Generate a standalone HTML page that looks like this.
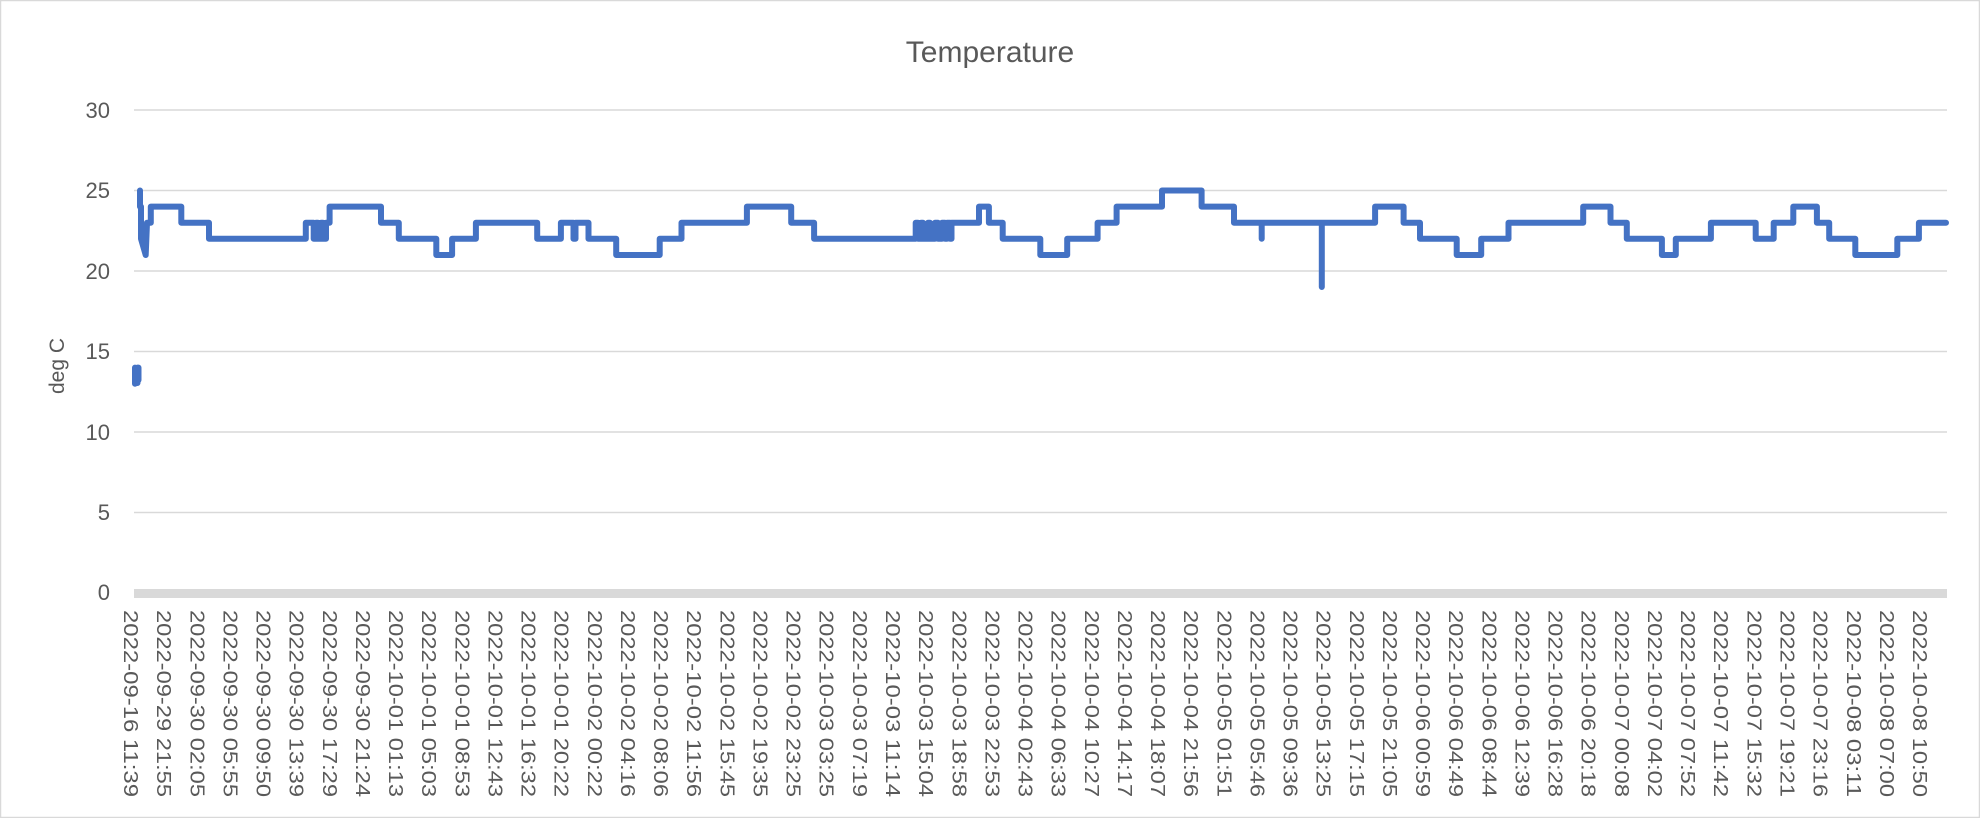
<!DOCTYPE html>
<html><head><meta charset="utf-8"><style>
html,body{margin:0;padding:0;background:#fff;}
svg{display:block;font-family:"Liberation Sans",sans-serif;}
</style></head><body>
<svg width="1980" height="818" viewBox="0 0 1980 818" xmlns="http://www.w3.org/2000/svg">
<rect x="0.5" y="0.5" width="1979" height="817" fill="#fff" stroke="#d9d9d9" stroke-width="1.5"/>
<text x="990" y="62" text-anchor="middle" font-size="30" fill="#595959">Temperature</text>
<g stroke="#d9d9d9" stroke-width="1.5">
<line x1="134" y1="110" x2="1947" y2="110"/>
<line x1="134" y1="190.5" x2="1947" y2="190.5"/>
<line x1="134" y1="271" x2="1947" y2="271"/>
<line x1="134" y1="351.5" x2="1947" y2="351.5"/>
<line x1="134" y1="432" x2="1947" y2="432"/>
<line x1="134" y1="512.5" x2="1947" y2="512.5"/>
</g>
<rect x="134" y="589" width="1813" height="9" fill="#d9d9d9"/>
<g font-size="22" fill="#595959" text-anchor="end">
<text x="110" y="118">30</text>
<text x="110" y="198">25</text>
<text x="110" y="279">20</text>
<text x="110" y="359">15</text>
<text x="110" y="440">10</text>
<text x="110" y="520">5</text>
<text x="110" y="600">0</text>
</g>
<text transform="translate(64,366) rotate(-90)" text-anchor="middle" font-size="21" fill="#595959">deg C</text>
<g fill="none" stroke="#4472C4" stroke-width="6" stroke-linejoin="round" stroke-linecap="round">
<path d="M135,383.7V367.6 M137.5,367.6V383 M138.5,367.6V380"/>
<path d="M140,190.5V206.6 H141 V238.8 L145.7,255 L147,222.7 H150.8 V206.6 H181.3 V222.7 H209 V238.8 H305.8 V222.7 H313.7 V238.8 H316 V222.7 H318 V238.8 H321 V222.7 H323 V238.8 H326 V222.7 H329.6 V206.6 H381 V222.7 H398.8 V238.8 H436.3 V255 H452.1 V238.8 H475.9 V222.7 H537.2 V238.8 H560.9 V222.7 H573.5 V238.8 H575.5 V222.7 H588.5 V238.8 H616.2 V255 H659.7 V238.8 H681.5 V222.7 H746.9 V206.6 H791.2 V222.7 H814.1 V238.8 H915.7 V222.7 H918 V238.8 H921 V222.7 H923 V238.8 H928 V222.7 H930 V238.8 H935 V222.7 H938 V238.8 H942 V222.7 H945 V238.8 H947 V222.7 H950 V238.8 H951.5 V222.7 H979 V206.6 H988.9 V222.7 H1002.7 V238.8 H1040.3 V255 H1067.2 V238.8 H1097.6 V222.7 H1116.6 V206.6 H1162 V190.5 H1201.6 V206.6 H1234 V222.7 H1261.7 V238.8 V222.7 H1321.8 V287 V222.7 H1375.1 V206.6 H1403.6 V222.7 H1420 V238.8 H1456.7 V255 H1481.2 V238.8 H1508.5 V222.7 H1583.2 V206.6 H1610.5 V222.7 H1626.8 V238.8 H1661.9 V255 H1675.8 V238.8 H1710.9 V222.7 H1755.7 V238.8 H1773.7 V222.7 H1793.3 V206.6 H1816.9 V222.7 H1829.2 V238.8 H1855.3 V255 H1897.3 V238.8 H1918.9 V222.7 H1946"/>
</g>
<g font-size="20" fill="#595959" lengthAdjust="spacingAndGlyphs">
<text transform="translate(124.0,610) rotate(90)" textLength="187" lengthAdjust="spacingAndGlyphs">2022-09-16 11:39</text>
<text transform="translate(157.1,610) rotate(90)" textLength="187" lengthAdjust="spacingAndGlyphs">2022-09-29 21:55</text>
<text transform="translate(190.3,610) rotate(90)" textLength="187" lengthAdjust="spacingAndGlyphs">2022-09-30 02:05</text>
<text transform="translate(223.4,610) rotate(90)" textLength="187" lengthAdjust="spacingAndGlyphs">2022-09-30 05:55</text>
<text transform="translate(256.5,610) rotate(90)" textLength="187" lengthAdjust="spacingAndGlyphs">2022-09-30 09:50</text>
<text transform="translate(289.7,610) rotate(90)" textLength="187" lengthAdjust="spacingAndGlyphs">2022-09-30 13:39</text>
<text transform="translate(322.8,610) rotate(90)" textLength="187" lengthAdjust="spacingAndGlyphs">2022-09-30 17:29</text>
<text transform="translate(355.9,610) rotate(90)" textLength="187" lengthAdjust="spacingAndGlyphs">2022-09-30 21:24</text>
<text transform="translate(389.0,610) rotate(90)" textLength="187" lengthAdjust="spacingAndGlyphs">2022-10-01 01:13</text>
<text transform="translate(422.2,610) rotate(90)" textLength="187" lengthAdjust="spacingAndGlyphs">2022-10-01 05:03</text>
<text transform="translate(455.3,610) rotate(90)" textLength="187" lengthAdjust="spacingAndGlyphs">2022-10-01 08:53</text>
<text transform="translate(488.4,610) rotate(90)" textLength="187" lengthAdjust="spacingAndGlyphs">2022-10-01 12:43</text>
<text transform="translate(521.6,610) rotate(90)" textLength="187" lengthAdjust="spacingAndGlyphs">2022-10-01 16:32</text>
<text transform="translate(554.7,610) rotate(90)" textLength="187" lengthAdjust="spacingAndGlyphs">2022-10-01 20:22</text>
<text transform="translate(587.8,610) rotate(90)" textLength="187" lengthAdjust="spacingAndGlyphs">2022-10-02 00:22</text>
<text transform="translate(621.0,610) rotate(90)" textLength="187" lengthAdjust="spacingAndGlyphs">2022-10-02 04:16</text>
<text transform="translate(654.1,610) rotate(90)" textLength="187" lengthAdjust="spacingAndGlyphs">2022-10-02 08:06</text>
<text transform="translate(687.2,610) rotate(90)" textLength="187" lengthAdjust="spacingAndGlyphs">2022-10-02 11:56</text>
<text transform="translate(720.3,610) rotate(90)" textLength="187" lengthAdjust="spacingAndGlyphs">2022-10-02 15:45</text>
<text transform="translate(753.5,610) rotate(90)" textLength="187" lengthAdjust="spacingAndGlyphs">2022-10-02 19:35</text>
<text transform="translate(786.6,610) rotate(90)" textLength="187" lengthAdjust="spacingAndGlyphs">2022-10-02 23:25</text>
<text transform="translate(819.7,610) rotate(90)" textLength="187" lengthAdjust="spacingAndGlyphs">2022-10-03 03:25</text>
<text transform="translate(852.9,610) rotate(90)" textLength="187" lengthAdjust="spacingAndGlyphs">2022-10-03 07:19</text>
<text transform="translate(886.0,610) rotate(90)" textLength="187" lengthAdjust="spacingAndGlyphs">2022-10-03 11:14</text>
<text transform="translate(919.1,610) rotate(90)" textLength="187" lengthAdjust="spacingAndGlyphs">2022-10-03 15:04</text>
<text transform="translate(952.3,610) rotate(90)" textLength="187" lengthAdjust="spacingAndGlyphs">2022-10-03 18:58</text>
<text transform="translate(985.4,610) rotate(90)" textLength="187" lengthAdjust="spacingAndGlyphs">2022-10-03 22:53</text>
<text transform="translate(1018.5,610) rotate(90)" textLength="187" lengthAdjust="spacingAndGlyphs">2022-10-04 02:43</text>
<text transform="translate(1051.6,610) rotate(90)" textLength="187" lengthAdjust="spacingAndGlyphs">2022-10-04 06:33</text>
<text transform="translate(1084.8,610) rotate(90)" textLength="187" lengthAdjust="spacingAndGlyphs">2022-10-04 10:27</text>
<text transform="translate(1117.9,610) rotate(90)" textLength="187" lengthAdjust="spacingAndGlyphs">2022-10-04 14:17</text>
<text transform="translate(1151.0,610) rotate(90)" textLength="187" lengthAdjust="spacingAndGlyphs">2022-10-04 18:07</text>
<text transform="translate(1184.2,610) rotate(90)" textLength="187" lengthAdjust="spacingAndGlyphs">2022-10-04 21:56</text>
<text transform="translate(1217.3,610) rotate(90)" textLength="187" lengthAdjust="spacingAndGlyphs">2022-10-05 01:51</text>
<text transform="translate(1250.4,610) rotate(90)" textLength="187" lengthAdjust="spacingAndGlyphs">2022-10-05 05:46</text>
<text transform="translate(1283.6,610) rotate(90)" textLength="187" lengthAdjust="spacingAndGlyphs">2022-10-05 09:36</text>
<text transform="translate(1316.7,610) rotate(90)" textLength="187" lengthAdjust="spacingAndGlyphs">2022-10-05 13:25</text>
<text transform="translate(1349.8,610) rotate(90)" textLength="187" lengthAdjust="spacingAndGlyphs">2022-10-05 17:15</text>
<text transform="translate(1382.9,610) rotate(90)" textLength="187" lengthAdjust="spacingAndGlyphs">2022-10-05 21:05</text>
<text transform="translate(1416.1,610) rotate(90)" textLength="187" lengthAdjust="spacingAndGlyphs">2022-10-06 00:59</text>
<text transform="translate(1449.2,610) rotate(90)" textLength="187" lengthAdjust="spacingAndGlyphs">2022-10-06 04:49</text>
<text transform="translate(1482.3,610) rotate(90)" textLength="187" lengthAdjust="spacingAndGlyphs">2022-10-06 08:44</text>
<text transform="translate(1515.5,610) rotate(90)" textLength="187" lengthAdjust="spacingAndGlyphs">2022-10-06 12:39</text>
<text transform="translate(1548.6,610) rotate(90)" textLength="187" lengthAdjust="spacingAndGlyphs">2022-10-06 16:28</text>
<text transform="translate(1581.7,610) rotate(90)" textLength="187" lengthAdjust="spacingAndGlyphs">2022-10-06 20:18</text>
<text transform="translate(1614.9,610) rotate(90)" textLength="187" lengthAdjust="spacingAndGlyphs">2022-10-07 00:08</text>
<text transform="translate(1648.0,610) rotate(90)" textLength="187" lengthAdjust="spacingAndGlyphs">2022-10-07 04:02</text>
<text transform="translate(1681.1,610) rotate(90)" textLength="187" lengthAdjust="spacingAndGlyphs">2022-10-07 07:52</text>
<text transform="translate(1714.2,610) rotate(90)" textLength="187" lengthAdjust="spacingAndGlyphs">2022-10-07 11:42</text>
<text transform="translate(1747.4,610) rotate(90)" textLength="187" lengthAdjust="spacingAndGlyphs">2022-10-07 15:32</text>
<text transform="translate(1780.5,610) rotate(90)" textLength="187" lengthAdjust="spacingAndGlyphs">2022-10-07 19:21</text>
<text transform="translate(1813.6,610) rotate(90)" textLength="187" lengthAdjust="spacingAndGlyphs">2022-10-07 23:16</text>
<text transform="translate(1846.8,610) rotate(90)" textLength="187" lengthAdjust="spacingAndGlyphs">2022-10-08 03:11</text>
<text transform="translate(1879.9,610) rotate(90)" textLength="187" lengthAdjust="spacingAndGlyphs">2022-10-08 07:00</text>
<text transform="translate(1913.0,610) rotate(90)" textLength="187" lengthAdjust="spacingAndGlyphs">2022-10-08 10:50</text>
</g>
</svg>
</body></html>
